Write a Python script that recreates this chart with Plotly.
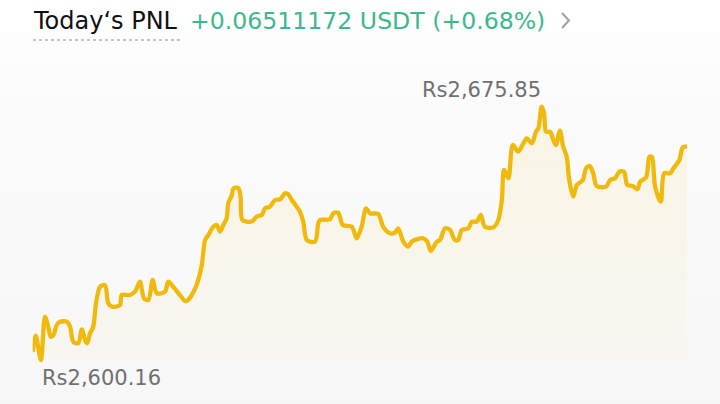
import plotly.graph_objects as go

# ---- data (time in hours, value in Rs) ----
t_hours = [0, 0.11, 0.30, 0.45, 0.57, 0.66, 0.76, 0.88, 1.00, 1.25, 1.37, 1.49, 1.67, 1.80, 1.92,
           2.00, 2.10, 2.22, 2.32, 2.47, 2.65, 2.77, 2.90, 3.20, 3.26, 3.57, 3.75, 3.93, 4.08, 4.24,
           4.40, 4.55, 4.85, 4.97, 5.15, 5.40, 5.58, 5.70, 5.83, 6.01, 6.20, 6.32, 6.44, 6.62, 6.75,
           6.87, 6.99, 7.11, 7.17, 7.30, 7.36, 7.54, 7.62, 7.69, 8.03, 8.21, 8.40, 8.52, 8.70, 8.88,
           9.07, 9.25, 9.37, 9.50, 9.68, 9.80, 9.92, 10.05, 10.35, 10.47, 10.53, 10.90, 11.02, 11.20,
           11.37, 11.70, 11.88, 12.06, 12.22, 12.37, 12.67, 12.85, 13.10, 13.28, 13.40, 13.59, 13.77,
           13.90, 14.32, 14.47, 14.59, 14.81, 14.93, 15.12, 15.30, 15.48, 15.60, 15.73, 15.97, 16.10,
           16.28, 16.43, 16.58, 16.89, 17.07, 17.20, 17.28, 17.44, 17.60, 17.80, 17.99, 18.11, 18.30,
           18.45, 18.54, 18.66, 18.75, 18.82, 18.97, 19.07, 19.18, 19.33, 19.45, 19.58, 19.67, 19.82,
           19.95, 20.17, 20.29, 20.43, 20.55, 20.68, 21.02, 21.17, 21.35, 21.51, 21.68, 21.80, 22.00,
           22.17, 22.27, 22.49, 22.61, 22.70, 22.82, 23.03, 23.15, 23.37, 23.49, 23.71, 23.83, 24.00]

values = [2602.64, 2607.42, 2600.16, 2613.10, 2610.11, 2607.12, 2607.63, 2610.62, 2611.60, 2611.60,
          2610.11, 2605.63, 2605.15, 2609.33, 2606.14, 2605.15, 2608.14, 2610.11, 2617.10, 2622.06,
          2622.57, 2617.10, 2616.09, 2616.59, 2619.58, 2619.58, 2620.57, 2623.56, 2618.60, 2618.09,
          2624.07, 2620.09, 2620.57, 2623.56, 2622.06, 2619.58, 2617.79, 2618.09, 2619.58, 2622.57,
          2628.55, 2636.02, 2637.51, 2639.99, 2640.50, 2638.50, 2640.50, 2642.50, 2646.98, 2649.47,
          2651.47, 2651.56, 2648.87, 2641.99, 2641.55, 2642.98, 2643.49, 2645.49, 2645.97, 2647.97,
          2648.18, 2649.97, 2649.67, 2647.97, 2645.97, 2644.47, 2641.49, 2636.02, 2635.51, 2641.01,
          2641.99, 2642.20, 2644.00, 2644.18, 2640.50, 2639.99, 2636.53, 2639.99, 2645.49, 2644.00,
          2643.79, 2639.99, 2638.02, 2638.20, 2639.51, 2635.51, 2634.08, 2635.57, 2636.53, 2635.51,
          2632.73, 2635.42, 2636.02, 2639.51, 2639.01, 2636.02, 2636.02, 2639.01, 2639.51, 2641.49,
          2641.49, 2643.49, 2639.99, 2639.81, 2642.00, 2647.97, 2656.94, 2654.46, 2664.41, 2662.40,
          2664.91, 2666.41, 2664.91, 2668.38, 2669.40, 2675.85, 2673.88, 2668.38, 2668.38, 2666.41,
          2664.41, 2668.68, 2663.90, 2660.91, 2653.95, 2648.96, 2652.45, 2653.95, 2657.44, 2658.13,
          2655.95, 2652.15, 2651.95, 2653.95, 2654.46, 2656.43, 2656.43, 2652.45, 2652.15, 2651.17,
          2653.44, 2654.75, 2660.91, 2660.91, 2651.95, 2647.46, 2655.95, 2655.95, 2657.44, 2659.92,
          2663.72, 2663.90]

title_label = "Today‘s PNL"
pnl_label = "+0.06511172 USDT (+0.68%)"
max_label = "Rs2,675.85"
min_label = "Rs2,600.16"

W, H = 720, 404
vmin, vmax = min(values), max(values)
i_min, i_max = values.index(vmin), values.index(vmax)
FONT = "DejaVu Sans"

fig = go.Figure()

# background gradient (full paper)
fig.add_trace(go.Scatter(
    x=[0, 1, 1, 0, 0], y=[0, 0, 1, 1, 0], mode="lines", line=dict(width=0),
    fill="toself", fillgradient=dict(type="vertical", colorscale=[[0, "#f7f7f7"], [0.75, "#fbfbfb"], [1, "#ffffff"]]),
    hoverinfo="skip", showlegend=False, xaxis="x", yaxis="y"))

# baseline for the area fill
fig.add_trace(go.Scatter(
    x=[t_hours[0], t_hours[-1]], y=[vmin, vmin], mode="lines", line=dict(width=0),
    hoverinfo="skip", showlegend=False, xaxis="x2", yaxis="y2"))

# price line with area
fig.add_trace(go.Scatter(
    x=t_hours, y=values, mode="lines",
    line=dict(color="#F0B90B", width=4.3, shape="spline", smoothing=0.8),
    fill="tonexty",
    fillgradient=dict(type="vertical", colorscale=[[0, "rgba(240,185,11,0.03)"], [1, "rgba(240,185,11,0.10)"]]),
    showlegend=False, xaxis="x2", yaxis="y2"))

# y mapping: value vmin at pixel ~360, vmax at ~106.7; plot area from pixel 80 to 380
per_px = (vmax - vmin) / (360 - 106.7)
y_lo = vmin - (380 - 360) * per_px
y_hi = vmin + (360 - 80) * per_px

ax_off = dict(visible=False, showgrid=False, zeroline=False, fixedrange=True)
fig.update_layout(
    width=W, height=H,
    margin=dict(l=0, r=0, t=0, b=0),
    paper_bgcolor="#fafafa", plot_bgcolor="rgba(0,0,0,0)",
    xaxis=dict(domain=[0, 1], range=[0, 1], **ax_off),
    yaxis=dict(domain=[0, 1], range=[0, 1], **ax_off),
    xaxis2=dict(domain=[32.7 / W, 687.3 / W], range=[t_hours[0], t_hours[-1]], anchor="y2", **ax_off),
    yaxis2=dict(domain=[(H - 380) / H, (H - 80) / H], range=[y_lo, y_hi], anchor="x2", **ax_off),
    font=dict(family=FONT),
    showlegend=False,
)

fig.add_annotation(
    xref="paper", yref="paper", x=31 / W, y=1 - 21 / H, xanchor="left", yanchor="middle",
    text=title_label, showarrow=False, font=dict(size=24, family=FONT, color="#111111"))
fig.add_annotation(
    xref="paper", yref="paper", x=188 / W, y=1 - 21 / H, xanchor="left", yanchor="middle",
    text=pnl_label, showarrow=False, font=dict(size=23.6, family=FONT, color="#3bb98a"))

# dotted underline beneath title
fig.add_shape(type="line", xref="paper", yref="paper", x0=33 / W, x1=181 / W,
              y0=1 - 40 / H, y1=1 - 40 / H, line=dict(color="#888888", width=1, dash="dot"))

# chevron
fig.add_shape(type="path", xref="paper", yref="paper",
              path=f"M {562/W},{1-13/H} L {569/W},{1-20.5/H} L {562/W},{1-28/H}",
              line=dict(color="#a0a0a0", width=2))

fig.add_annotation(
    xref="x2", yref="y2", x=t_hours[i_max], y=vmax, xanchor="right", yanchor="bottom",
    yshift=3, xshift=1, text=max_label, showarrow=False, font=dict(size=21, color="#707070"))
fig.add_annotation(
    xref="x2", yref="y2", x=t_hours[i_min], y=vmin, xanchor="left", yanchor="top",
    yshift=-4, xshift=-1, text=min_label, showarrow=False, font=dict(size=21, color="#707070"))

fig.write_html("out.html", config={"displayModeBar": False},
               post_script="document.body.style.margin='0';document.body.style.overflow='hidden';")
